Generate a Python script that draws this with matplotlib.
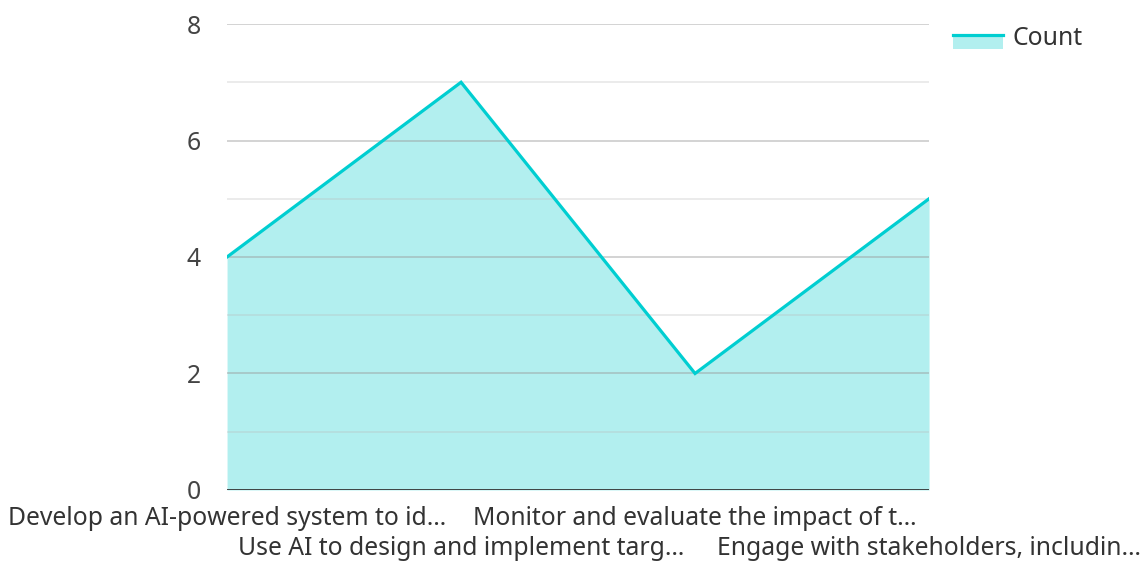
import matplotlib
matplotlib.use("Agg")
import matplotlib.pyplot as plt
from matplotlib.patches import Rectangle
from matplotlib.lines import Line2D
from matplotlib.legend_handler import HandlerBase

categories = [
    "Develop an AI-powered system to id…",
    "Use AI to design and implement targ…",
    "Monitor and evaluate the impact of t…",
    "Engage with stakeholders, includin…",
]
counts = [4, 7, 2, 5]
y_ticks = [0, 2, 4, 6, 8]

plt.rcParams["font.family"] = ["Noto Sans", "DejaVu Sans"]

line_color = "#00CED1"
fill_color = "#B2EFEF"
text_color = "#333333"
font_size = 17.8

fig = plt.figure(figsize=(11.45, 5.61), dpi=100)
ax = fig.add_axes([0.1983, 0.1266, 0.8114 - 0.1983, 0.9572 - 0.1266])

x = list(range(len(categories)))
ax.fill_between(x, counts, 0, color=fill_color, linewidth=0, zorder=1)
ax.plot(x, counts, color=line_color, linewidth=2.3, zorder=3, solid_joinstyle="miter")

# horizontal grid: even values stronger, odd values lighter
for v in range(1, 9):
    if v % 2 == 0:
        ax.axhline(v, color="#999999", alpha=0.5, linewidth=1.2, zorder=2)
    else:
        ax.axhline(v, color="#bbbbbb", alpha=0.35, linewidth=1.2, zorder=2)
ax.axhline(0, color="#333333", linewidth=2, zorder=4)

ax.set_xlim(0, len(categories) - 1)
ax.set_ylim(0, 8)
ax.set_yticks(y_ticks)
ax.set_yticklabels([str(v) for v in y_ticks], fontsize=font_size, color="#444444")
ax.tick_params(axis="y", length=0, pad=19)
ax.tick_params(axis="x", length=0)
ax.set_xticks(x)
ax.set_xticklabels([])
for s in ax.spines.values():
    s.set_visible(False)

# category labels staggered on two rows
for i, lab in enumerate(categories):
    y_off = -0.075 if i % 2 == 0 else -0.1395
    ax.text(i, y_off, lab, transform=ax.get_xaxis_transform(),
            ha="center", va="baseline", fontsize=font_size, color=text_color)


class AreaHandler(HandlerBase):
    """Legend key: filled band with the series line along its top edge."""

    def create_artists(self, legend, orig_handle, xdescent, ydescent,
                       width, height, fontsize, trans):
        top = -ydescent + height * 0.55
        bottom = top - 10.0
        rect = Rectangle((-xdescent, bottom), width, top - bottom,
                         facecolor=fill_color, edgecolor="none", transform=trans)
        line = Line2D([-xdescent, -xdescent + width], [top, top],
                      color=line_color, linewidth=2.3, transform=trans)
        return [rect, line]


proxy = Line2D([0], [0], color=line_color)
leg = fig.legend([proxy], ["Count"], loc="upper left",
                 bbox_to_anchor=(953 / 1145, 0.954), frameon=False,
                 borderpad=0, borderaxespad=0,
                 fontsize=font_size, handlelength=2.02, handletextpad=0.4,
                 handler_map={Line2D: AreaHandler()})
for t in leg.get_texts():
    t.set_color(text_color)

fig.savefig("out.png", dpi=100)
